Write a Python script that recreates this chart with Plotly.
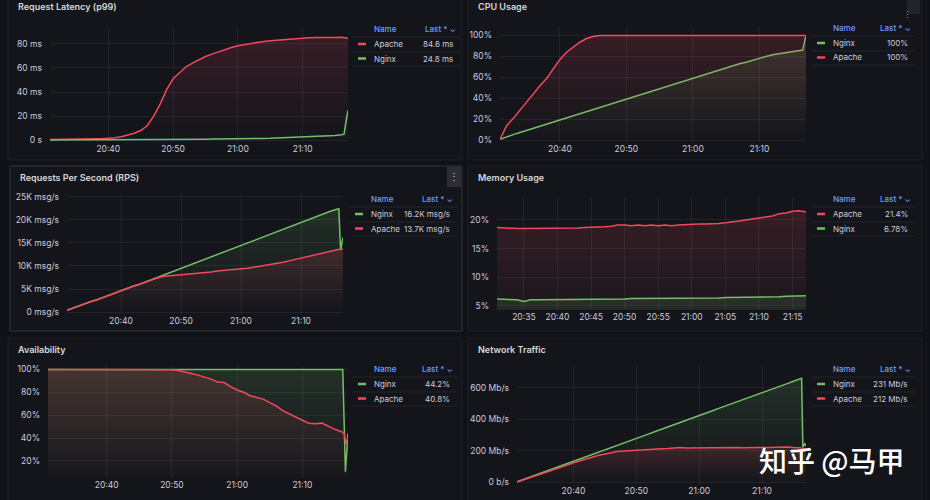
import pandas as pd
import plotly.graph_objects as go

W, H = 930, 500
base = pd.Timestamp("2024-05-20 20:00")
minutes = list(range(31, 77))   # 20:31 .. 21:16, one sample per minute

# Request Latency (p99), ms
lat_apache = [0.5, 0.5, 0.6, 0.7, 0.8, 0.9, 1.0, 1.1, 1.3, 1.5,
              2.0, 2.8, 4.0, 5.8, 8.0, 12.0, 20.0, 30.0, 42.0, 51.0,
              56.0, 61.0, 64.0, 67.0, 69.5, 71.5, 73.5, 75.5, 77.0, 78.5,
              79.5, 80.5, 81.5, 82.0, 82.5, 83.0, 83.5, 84.0, 84.5, 84.8,
              85.0, 85.2, 85.0, 85.3, 85.2, 85.4]
lat_nginx = [0.2, 0.2, 0.2, 0.2, 0.2, 0.3, 0.3, 0.3, 0.3, 0.3,
             0.3, 0.4, 0.4, 0.4, 0.4, 0.5, 0.5, 0.5, 0.6, 0.6,
             0.6, 0.7, 0.7, 0.8, 0.8, 0.9, 0.9, 1.0, 1.0, 1.1,
             1.3, 1.2, 1.4, 1.5, 1.6, 1.8, 1.9, 2.1, 2.2, 2.4,
             2.6, 2.9, 3.1, 3.5, 3.9, 4.6]
lat_apache_end_t, lat_apache_end = [77], [84.6]
lat_nginx_end_t, lat_nginx_end = [76.4, 76.7, 77], [5.0, 16.0, 24.8]

# CPU Usage, %
cpu_apache = [1, 14, 21, 29, 37, 45, 52, 59, 68, 77,
              84, 89, 93.5, 97, 99, 99.8, 100, 100, 100, 100,
              100, 100, 100, 100, 100, 100, 100, 100, 100, 100,
              100, 100, 100, 100, 100, 100, 100, 100, 100, 100,
              100, 100, 100, 100, 100, 100]
cpu_nginx = [1, 3.5, 5.5, 7.5, 9.5, 11.5, 13.5, 15.5, 17.5, 19.5,
             21.5, 23.5, 25.5, 27.5, 29.5, 31.5, 33.5, 35.5, 37.5, 39.5,
             41.5, 43.5, 45.5, 47.5, 49.5, 51.5, 53.5, 55.5, 57.5, 59.5,
             61.5, 63, 65, 67, 69, 71, 73, 74.5, 76.5, 78.5,
             80, 81.5, 82.5, 83.5, 84.5, 85.5]
cpu_apache_end_t, cpu_apache_end = [77], [100]
cpu_nginx_end_t, cpu_nginx_end = [76.5, 77], [86, 100]

# Requests Per Second, K msg/s
rps_nginx = [0.4, 0.9, 1.3, 1.8, 2.3, 2.7, 3.2, 3.7, 4.2, 4.6,
             5.1, 5.6, 6.0, 6.5, 7.0, 7.4, 7.9, 8.4, 8.9, 9.4,
             9.9, 10.4, 10.9, 11.4, 11.9, 12.4, 12.9, 13.4, 13.9, 14.4,
             14.9, 15.4, 15.9, 16.4, 16.9, 17.4, 17.9, 18.4, 18.9, 19.4,
             19.9, 20.4, 20.9, 21.4, 21.9, 22.3]
rps_apache = [0.4, 0.9, 1.3, 1.8, 2.3, 2.7, 3.2, 3.7, 4.2, 4.6,
              5.1, 5.6, 6.0, 6.5, 7.0, 7.4, 7.7, 7.9, 8.0, 8.1,
              8.2, 8.4, 8.5, 8.6, 8.7, 8.9, 9.0, 9.1, 9.2, 9.3,
              9.5, 9.7, 9.9, 10.1, 10.3, 10.6, 10.8, 11.1, 11.4, 11.7,
              12.0, 12.3, 12.7, 13.0, 13.3, 13.5]
rps_nginx_end_t, rps_nginx_end = [76.3, 76.6, 77], [22.4, 13.5, 16.2]
rps_apache_end_t, rps_apache_end = [77], [13.7]

# Memory Usage, %
mem_apache = [18.7, 18.6, 18.6, 18.5, 18.5, 18.5, 18.5, 18.6, 18.6, 18.6,
              18.6, 18.6, 18.6, 18.7, 18.7, 18.7, 18.8, 18.9, 19.1, 19.1,
              19.0, 19.1, 19.0, 19.1, 19.0, 19.1, 19.0, 19.1, 19.2, 19.2,
              19.3, 19.3, 19.3, 19.4, 19.5, 19.6, 19.8, 20.0, 20.2, 20.4,
              20.5, 20.7, 21.1, 21.2, 21.5, 21.6]
mem_nginx = [6.2, 6.2, 6.2, 6.1, 5.8, 6.1, 6.1, 6.1, 6.1, 6.2,
             6.2, 6.2, 6.2, 6.2, 6.2, 6.2, 6.2, 6.2, 6.2, 6.2,
             6.3, 6.3, 6.3, 6.3, 6.3, 6.3, 6.3, 6.3, 6.4, 6.4,
             6.4, 6.4, 6.4, 6.4, 6.5, 6.5, 6.5, 6.5, 6.5, 6.5,
             6.6, 6.6, 6.6, 6.7, 6.7, 6.8]
mem_apache_end_t, mem_apache_end = [77], [21.4]
mem_nginx_end_t, mem_nginx_end = [77], [6.78]

# Availability, %
av_nginx = [100, 100, 100, 100, 100, 100, 100, 100, 100, 100,
            100, 100, 100, 100, 100, 100, 100, 100, 100, 100,
            100, 100, 100, 100, 100, 100, 100, 100, 100, 100,
            100, 100, 100, 100, 100, 100, 100, 100, 100, 100,
            100, 100, 100, 100, 100, 100]
av_apache = [100, 100, 100, 100, 100, 100, 100, 100, 100, 100,
             100, 100, 100, 100, 100, 100, 100, 100, 100, 99.8,
             99, 98, 96.5, 95, 93.5, 91.5, 89, 88.5, 85, 82,
             80, 77, 75.5, 74, 71, 68, 64, 61, 58, 55.5,
             53, 52.5, 53, 50, 47.5, 45.5]
av_nginx_end_t, av_nginx_end = [76.2, 76.6, 77], [100, 10.5, 44.2]
av_apache_end_t, av_apache_end = [76.4, 76.7, 77], [44, 35, 40.8]

# Network Traffic, Mb/s
net_nginx = [4, 18, 33, 47, 62, 76, 91, 105, 120, 134,
             149, 163, 178, 192, 207, 221, 236, 250, 265, 279,
             294, 308, 323, 337, 352, 366, 381, 395, 410, 424,
             439, 453, 468, 482, 497, 511, 526, 540, 555, 569,
             584, 598, 613, 627, 642, 656]
net_apache = [3, 16, 29, 42, 55, 68, 80, 96, 110, 125,
              138, 150, 162, 172, 181, 190, 196, 200, 203, 205,
              207, 210, 212, 214, 216, 220, 222, 218, 219, 218,
              220, 219, 221, 220, 222, 221, 220, 219, 222, 221,
              222, 224, 223, 225, 222, 220]
net_nginx_end_t, net_nginx_end = [76.3, 76.5, 76.8, 77], [660, 225, 245, 231]
net_apache_end_t, net_apache_end = [77], [212]

lat_ticks, lat_labels = [0, 20, 40, 60, 80], ["0 s", "20 ms", "40 ms", "60 ms", "80 ms"]
cpu_ticks, cpu_labels = [0, 20, 40, 60, 80, 100], ["0%", "20%", "40%", "60%", "80%", "100%"]
rps_ticks = [0, 5, 10, 15, 20, 25]
rps_labels = ["0 msg/s", "5K msg/s", "10K msg/s", "15K msg/s", "20K msg/s", "25K msg/s"]
mem_ticks, mem_labels = [5, 10, 15, 20], ["5%", "10%", "15%", "20%"]
av_ticks, av_labels = [20, 40, 60, 80, 100], ["20%", "40%", "60%", "80%", "100%"]
net_ticks, net_labels = [0, 200, 400, 600], ["0 b/s", "200 Mb/s", "400 Mb/s", "600 Mb/s"]

RED = "#f2495c"
GREEN = "#73bf69"
TXT = "#ccccdc"
GRID = "rgba(204,204,220,0.08)"
FONT = "Inter"


def times(ms):
    return [base + pd.Timedelta(minutes=m) for m in ms]


def rgba(c, a):
    c = c.lstrip("#")
    return "rgba(%d,%d,%d,%s)" % (int(c[0:2], 16), int(c[2:4], 16), int(c[4:6], 16), a)


def fx(x):
    return x / W


def fy(y):
    return 1 - y / H


panels = [
    dict(title="Request Latency (p99)", box=(8, -5, 462, 160), plot=(50, 27, 348, 142),
         yr=[-1.5, 94], tv=lat_ticks, tt=lat_labels, step=10, unit=" ms", leg=(358, 29, 455),
         series=[("Apache", RED, lat_apache, lat_apache_end_t, lat_apache_end),
                 ("Nginx", GREEN, lat_nginx, lat_nginx_end_t, lat_nginx_end)]),
    dict(title="CPU Usage", box=(468, -5, 922, 160), plot=(500, 27, 806, 142),
         yr=[-1.5, 108], tv=cpu_ticks, tt=cpu_labels, step=10, unit="%", leg=(817, 28, 910),
         series=[("Nginx", GREEN, cpu_nginx, cpu_nginx_end_t, cpu_nginx_end),
                 ("Apache", RED, cpu_apache, cpu_apache_end_t, cpu_apache_end)]),
    dict(title="Requests Per Second (RPS)", box=(10, 166, 462, 331), plot=(67, 193, 343, 314),
         yr=[-0.4, 25.8], tv=rps_ticks, tt=rps_labels, step=10, unit="K msg/s", leg=(355, 199, 452),
         series=[("Nginx", GREEN, rps_nginx, rps_nginx_end_t, rps_nginx_end),
                 ("Apache", RED, rps_apache, rps_apache_end_t, rps_apache_end)]),
    dict(title="Memory Usage", box=(468, 166, 922, 331), plot=(497, 197, 806, 310),
         yr=[4.3, 24], tv=mem_ticks, tt=mem_labels, step=5, unit="%", leg=(817, 199, 910),
         series=[("Apache", RED, mem_apache, mem_apache_end_t, mem_apache_end),
                 ("Nginx", GREEN, mem_nginx, mem_nginx_end_t, mem_nginx_end)]),
    dict(title="Availability", box=(8, 338, 462, 505), plot=(48, 366, 348, 478),
         yr=[5, 103], tv=av_ticks, tt=av_labels, step=10, unit="%", leg=(358, 369, 452),
         series=[("Nginx", GREEN, av_nginx, av_nginx_end_t, av_nginx_end),
                 ("Apache", RED, av_apache, av_apache_end_t, av_apache_end)]),
    dict(title="Network Traffic", box=(468, 338, 922, 505), plot=(517, 365, 806, 484),
         yr=[-10, 745], tv=net_ticks, tt=net_labels, step=10, unit=" Mb/s", leg=(817, 369, 910),
         series=[("Nginx", GREEN, net_nginx, net_nginx_end_t, net_nginx_end),
                 ("Apache", RED, net_apache, net_apache_end_t, net_apache_end)]),
]

fig = go.Figure()
layout = {}
shapes = []
annos = []

for i, p in enumerate(panels, start=1):
    sfx = "" if i == 1 else str(i)
    x0, y0, x1, y1 = p["plot"]
    bx0, by0, bx1, by1 = p["box"]
    border = "#34363d" if i == 3 else "#1d1e24"
    shapes.append(dict(type="rect", xref="paper", yref="paper", x0=fx(bx0), x1=fx(bx1),
                       y0=fy(by1), y1=fy(by0), line=dict(color=border, width=1),
                       fillcolor="#14151b", layer="below"))
    annos.append(dict(text=p["title"], x=fx(bx0 + 8), y=fy(by0 + 11 if by0 >= 0 else 6),
                      xref="paper", yref="paper", xanchor="left", yanchor="middle", showarrow=False,
                      font=dict(family=FONT, size=9, color="#d8d9da", weight=600)))

    for name, col, vals, tail_t, tail_v in p["series"]:
        fig.add_trace(go.Scatter(
            x=times(minutes + tail_t), y=vals + tail_v, mode="lines",
            line=dict(color=col, width=1.5), fill="tozeroy",
            fillgradient=dict(type="vertical",
                              colorscale=[[0, rgba(col, 0.0)], [1, rgba(col, 0.16)]]),
            xaxis="x" + sfx, yaxis="y" + sfx, showlegend=False, hoverinfo="skip"))

    layout["xaxis" + sfx] = dict(
        domain=[fx(x0), fx(x1)], anchor="y" + sfx, type="date", automargin=False,
        range=[base + pd.Timedelta(minutes=31), base + pd.Timedelta(minutes=77)],
        tickformat="%H:%M", dtick=p["step"] * 60000,
        tick0=base + pd.Timedelta(minutes=40), showgrid=True, gridcolor=GRID,
        zeroline=False, showline=False, ticks="", tickfont=dict(family=FONT, size=8.5, color=TXT))
    layout["yaxis" + sfx] = dict(
        domain=[fy(y1), fy(y0)], anchor="x" + sfx, range=p["yr"], tickvals=p["tv"],
        ticktext=p["tt"], showgrid=True, gridcolor=GRID, zeroline=False, showline=False,
        automargin=False, ticks="", ticklabelstandoff=7,
        tickfont=dict(family=FONT, size=8.5, color=TXT))

    # table legend
    dx, hy, rx = p["leg"]
    lx = dx + 14
    annos.append(dict(text="Name", x=fx(lx), y=fy(hy), xref="paper", yref="paper",
                      xanchor="left", yanchor="middle", showarrow=False,
                      font=dict(family=FONT, size=8, color="#6e9fff", weight=500)))
    annos.append(dict(text="Last * ⌄", x=fx(rx + 3), y=fy(hy), xref="paper", yref="paper",
                      xanchor="right", yanchor="middle", showarrow=False,
                      font=dict(family=FONT, size=8, color="#6e9fff", weight=500)))
    for ly in (hy + 8, hy + 23, hy + 37):
        shapes.append(dict(type="line", xref="paper", yref="paper", x0=fx(dx - 6), x1=fx(rx + 5),
                           y0=fy(ly), y1=fy(ly), line=dict(color="#22242a", width=1)))
    for k, (name, col, vals, tail_t, tail_v) in enumerate(p["series"]):
        ry = hy + 15 + 14.5 * k
        shapes.append(dict(type="line", xref="paper", yref="paper", x0=fx(dx), x1=fx(dx + 8),
                           y0=fy(ry), y1=fy(ry), line=dict(color=col, width=2.5)))
        annos.append(dict(text=name, x=fx(lx), y=fy(ry), xref="paper", yref="paper",
                          xanchor="left", yanchor="middle", showarrow=False,
                          font=dict(family=FONT, size=8, color=TXT)))
        last = tail_v[-1]
        annos.append(dict(text="%.3g%s" % (last, p["unit"]), x=fx(rx), y=fy(ry),
                          xref="paper", yref="paper", xanchor="right", yanchor="middle",
                          showarrow=False, font=dict(family=FONT, size=8, color=TXT)))

# panel menu buttons
shapes.append(dict(type="rect", xref="paper", yref="paper", x0=fx(907), x1=fx(920),
                   y0=fy(14), y1=fy(0), line=dict(width=0), fillcolor="#22242a"))
annos.append(dict(text="⋮", x=fx(913.5), y=fy(6), xref="paper", yref="paper", showarrow=False,
                  font=dict(size=9, color="#8e8e96")))
shapes.append(dict(type="rect", xref="paper", yref="paper", x0=fx(447), x1=fx(461),
                   y0=fy(187), y1=fy(167), line=dict(width=0), fillcolor="#2c2e35"))
annos.append(dict(text="⋮", x=fx(454), y=fy(176), xref="paper", yref="paper", showarrow=False,
                  font=dict(size=10, color="#d0d0d8")))

# watermark
annos.append(dict(text="知乎 @马甲", x=fx(832), y=fy(460), xref="paper", yref="paper",
                  xanchor="center", yanchor="middle", showarrow=False,
                  font=dict(family="Noto Sans CJK SC", size=28, color="white", weight=500)))

fig.update_layout(width=W, height=H, margin=dict(l=0, r=0, t=0, b=0),
                  paper_bgcolor="#111217", plot_bgcolor="rgba(0,0,0,0)",
                  shapes=shapes, annotations=annos, **layout)
fig.write_html("out.html", config={"displayModeBar": False},
               post_script="document.body.style.margin='0';")
